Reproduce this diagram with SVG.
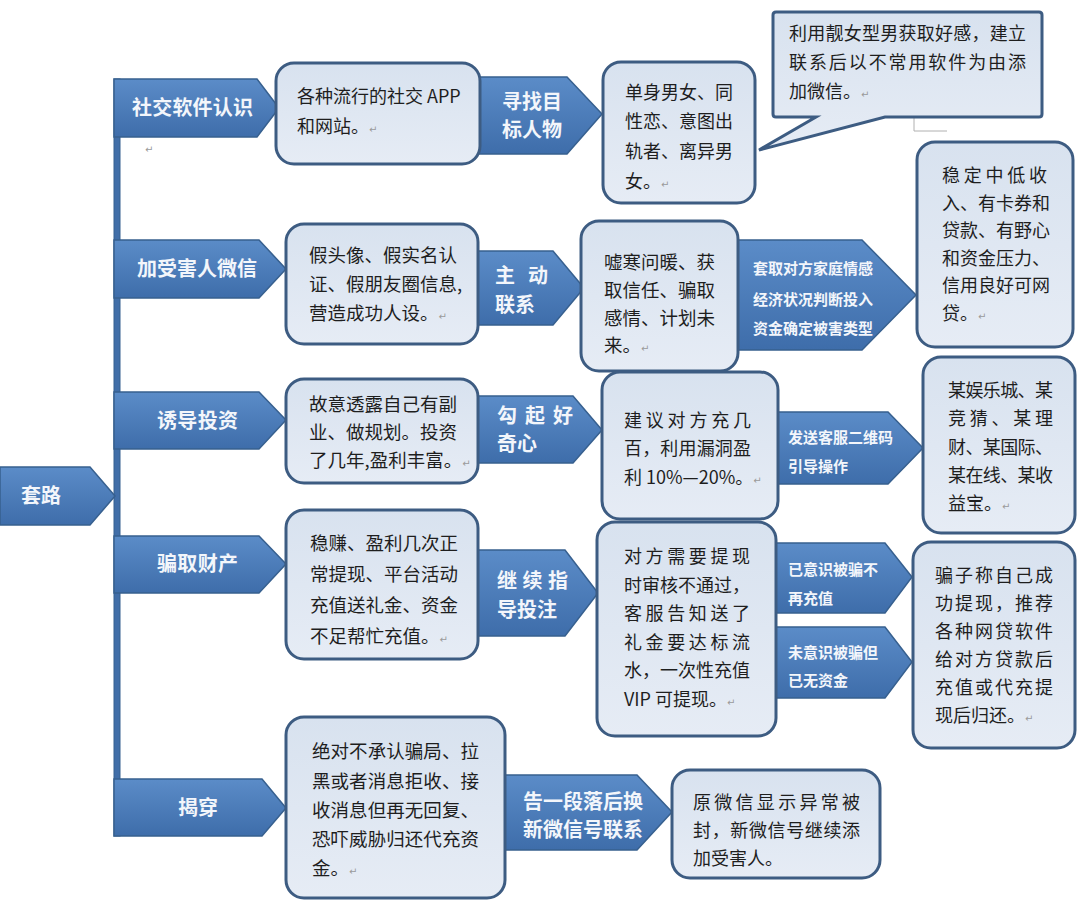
<svg xmlns="http://www.w3.org/2000/svg" width="1080" height="913" viewBox="0 0 1080 913">
<defs>
<linearGradient id="pg" x1="0" y1="0" x2="0" y2="1"><stop offset="0" stop-color="#5b8cc8"/><stop offset="1" stop-color="#3e6daa"/></linearGradient>
<linearGradient id="bg" x1="0" y1="0" x2="0" y2="1"><stop offset="0" stop-color="#d8e2ef"/><stop offset="1" stop-color="#e6ecf5"/></linearGradient>
<style>
.pt{fill:url(#pg);stroke:#37608f;stroke-width:1.5}
.bx{fill:url(#bg);stroke:#3d5c82;stroke-width:3}
.lb{font-family:"Noto Sans CJK SC","Noto Sans CJK JP",sans-serif;font-weight:700;fill:#f3f6fb;font-size:20px}
.sl{font-family:"Noto Sans CJK SC","Noto Sans CJK JP",sans-serif;font-weight:700;fill:#f3f6fb;font-size:15px}
.tx{font-family:"Noto Sans CJK SC","Noto Sans CJK JP",sans-serif;fill:#1e1e1e;font-size:18px}
.t5{font-size:18.5px}
.rt{font-family:"DejaVu Sans",sans-serif;fill:#9a9a9a;font-size:10px;font-weight:400}
</style>
</defs>
<rect width="1080" height="913" fill="#ffffff"/>

<g id="connectors">
<rect x="114" y="79" width="6" height="757" fill="#416ea8" stroke="#37608f" stroke-width="1"/>
<polyline points="914,117 914,131 947,131" fill="none" stroke="#b0b0b0" stroke-width="1"/>
</g>

<g id="n-taolu"><polygon class="pt" points="0,467 90,467 115,496 90,525 0,525"/><text class="lb" x="21" y="503">套路</text></g>
<g id="n-shejiao"><polygon class="pt" points="114,79 257,79 279,108 257,137 114,137"/><text class="lb" x="132" y="115" textLength="121" lengthAdjust="spacing">社交软件认识</text><text class="rt" x="145" y="153">↵</text></g>
<g id="n-jiashouhai"><polygon class="pt" points="114,240 259,240 286,269 259,298 114,298"/><text class="lb" x="137" y="276" textLength="120" lengthAdjust="spacing">加受害人微信</text></g>
<g id="n-youdao"><polygon class="pt" points="114,392 259,392 286,420 259,449 114,449"/><text class="lb" x="157" y="428" textLength="81" lengthAdjust="spacing">诱导投资</text></g>
<g id="n-pianqu"><polygon class="pt" points="114,536 259,536 286,564 259,593 114,593"/><text class="lb" x="157" y="571" textLength="81" lengthAdjust="spacing">骗取财产</text></g>
<g id="n-jiechuan"><polygon class="pt" points="114,779 262,779 286,808 262,836 114,836"/><text class="lb" x="178" y="815">揭穿</text></g>

<g id="n-xunzhao"><polygon class="pt" points="478,77 567,77 602,114 567,154 478,154"/><text class="lb" x="502" y="109">寻找目</text><text class="lb" x="502" y="137">标人物</text></g>
<g id="n-zhudong"><polygon class="pt" points="478,251 553,251 584,288 553,325 478,325"/><text class="lb" x="495" y="283" font-size="19" textLength="53" lengthAdjust="spacing">主动</text><text class="lb" x="495" y="312" font-size="19">联系</text></g>
<g id="n-gouqi"><polygon class="pt" points="478,396 573,396 602,430 573,463 478,463"/><text class="lb" x="497" y="423" font-size="19" textLength="76" lengthAdjust="spacing">勾起好</text><text class="lb" x="497" y="451" font-size="19">奇心</text></g>
<g id="n-jixu"><polygon class="pt" points="478,550 565,550 598,593 565,636 478,636"/><text class="lb" x="497" y="588" font-size="19.5" textLength="71" lengthAdjust="spacing">继续指</text><text class="lb" x="497" y="617" font-size="19.5">导投注</text></g>
<g id="n-gaoyiduan"><polygon class="pt" points="505,775 637,775 672,812 637,850 505,850"/><text class="lb" x="523" y="809" font-size="19.5">告一段落后换</text><text class="lb" x="523" y="837" font-size="19.5">新微信号联系</text></g>
<g id="n-taoqu"><polygon class="pt" points="738,240 862,240 916,295 862,350 738,350"/><text class="sl" x="753" y="274">套取对方家庭情感</text><text class="sl" x="753" y="305">经济状况判断投入</text><text class="sl" x="753" y="334">资金确定被害类型</text></g>
<g id="n-fasong"><polygon class="pt" points="778,412 888,412 923,448 888,484 778,484"/><text class="sl" x="788" y="443">发送客服二维码</text><text class="sl" x="788" y="472">引导操作</text></g>
<g id="n-yiyishi"><polygon class="pt" points="776,543 885,543 912,577 885,613 776,613"/><text class="sl" x="788" y="575">已意识被骗不</text><text class="sl" x="788" y="604">再充值</text></g>
<g id="n-weiyishi"><polygon class="pt" points="776,627 885,627 912,662 885,698 776,698"/><text class="sl" x="788" y="658">未意识被骗但</text><text class="sl" x="788" y="686">已无资金</text></g>

<g id="b-app"><rect class="bx" x="276" y="63" width="204" height="101" rx="18"/>
<text class="tx" x="297" y="103">各种流行的社交 APP</text>
<text class="tx" x="297" y="133">和网站。<tspan class="rt">↵</tspan></text></g>

<g id="b-danshen"><rect class="bx" x="603" y="62" width="152" height="141" rx="18"/>
<text class="tx" x="625" y="99">单身男女、同</text>
<text class="tx" x="625" y="128">性恋、意图出</text>
<text class="tx" x="625" y="158">轨者、离异男</text>
<text class="tx" x="625" y="188">女。<tspan class="rt">↵</tspan></text></g>

<g id="b-callout"><path class="bx" d="M776,12 H1039 Q1042,12 1042,15 V114 Q1042,117 1039,117 H885 L759,150 L816,117 H776 Q773,117 773,114 V15 Q773,12 776,12 Z"/>
<text class="tx" x="789" y="40" textLength="237" lengthAdjust="spacing">利用靓女型男获取好感，建立</text>
<text class="tx" x="789" y="69" textLength="237" lengthAdjust="spacing">联系后以不常用软件为由添</text>
<text class="tx" x="789" y="98">加微信。<tspan class="rt">↵</tspan></text></g>

<g id="b-wending"><rect class="bx" x="917" y="142" width="156" height="205" rx="18"/>
<text class="tx" x="942" y="182" textLength="105" lengthAdjust="spacing">稳定中低收</text>
<text class="tx" x="942" y="209.5">入、有卡券和</text>
<text class="tx" x="942" y="237">贷款、有野心</text>
<text class="tx" x="942" y="264.5">和资金压力、</text>
<text class="tx" x="942" y="292">信用良好可网</text>
<text class="tx" x="942" y="319.5">贷。<tspan class="rt">↵</tspan></text></g>

<g id="b-jiatouxiang"><rect class="bx" x="286" y="224" width="192" height="120" rx="18"/>
<text class="tx t5" x="309" y="262">假头像、假实名认</text>
<text class="tx t5" x="309" y="291">证、假朋友圈信息,</text>
<text class="tx t5" x="309" y="320">营造成功人设。<tspan class="rt">↵</tspan></text></g>

<g id="b-xuhan"><rect class="bx" x="581" y="221" width="157" height="150" rx="18"/>
<text class="tx t5" x="604" y="269">嘘寒问暖、获</text>
<text class="tx t5" x="604" y="297">取信任、骗取</text>
<text class="tx t5" x="604" y="325">感情、计划未</text>
<text class="tx t5" x="604" y="352">来。<tspan class="rt">↵</tspan></text></g>

<g id="b-guyi"><rect class="bx" x="286" y="379" width="192" height="104" rx="18"/>
<text class="tx t5" x="309" y="411">故意透露自己有副</text>
<text class="tx t5" x="309" y="439">业、做规划。投资</text>
<text class="tx t5" x="309" y="467">了几年,盈利丰富。<tspan class="rt">↵</tspan></text></g>

<g id="b-jianyi"><rect class="bx" x="602" y="372" width="176" height="147" rx="18"/>
<text class="tx" x="624" y="427" textLength="127" lengthAdjust="spacing">建议对方充几</text>
<text class="tx" x="624" y="455" textLength="127" lengthAdjust="spacing">百，利用漏洞盈</text>
<text class="tx" x="624" y="484">利 10%—20%。<tspan class="rt">↵</tspan></text></g>

<g id="b-yule"><rect class="bx" x="923" y="357" width="152" height="176" rx="18"/>
<text class="tx" x="948" y="397" font-size="17.5" textLength="105" lengthAdjust="spacing">某娱乐城、某</text>
<text class="tx" x="948" y="425" font-size="17.5" textLength="105" lengthAdjust="spacing">竞猜、某理</text>
<text class="tx" x="948" y="454" font-size="17.5" textLength="105" lengthAdjust="spacing">财、某国际、</text>
<text class="tx" x="948" y="482" font-size="17.5" textLength="105" lengthAdjust="spacing">某在线、某收</text>
<text class="tx" x="948" y="510" font-size="17.5">益宝。<tspan class="rt">↵</tspan></text></g>

<g id="b-wenzhuan"><rect class="bx" x="286" y="510" width="192" height="149" rx="18"/>
<text class="tx t5" x="310" y="550">稳赚、盈利几次正</text>
<text class="tx t5" x="310" y="581">常提现、平台活动</text>
<text class="tx t5" x="310" y="612">充值送礼金、资金</text>
<text class="tx t5" x="310" y="643">不足帮忙充值。<tspan class="rt">↵</tspan></text></g>

<g id="b-duifang"><rect class="bx" x="597" y="522" width="179" height="214" rx="18"/>
<text class="tx" x="624" y="563" textLength="126" lengthAdjust="spacing">对方需要提现</text>
<text class="tx" x="624" y="591.5" textLength="126" lengthAdjust="spacing">时审核不通过，</text>
<text class="tx" x="624" y="620" textLength="126" lengthAdjust="spacing">客服告知送了</text>
<text class="tx" x="624" y="648.5" textLength="126" lengthAdjust="spacing">礼金要达标流</text>
<text class="tx" x="624" y="677" textLength="126" lengthAdjust="spacing">水，一次性充值</text>
<text class="tx" x="624" y="705.5">VIP 可提现。<tspan class="rt">↵</tspan></text></g>

<g id="b-pianzi"><rect class="bx" x="913" y="542" width="162" height="206" rx="18"/>
<text class="tx" x="935" y="582" textLength="118" lengthAdjust="spacing">骗子称自己成</text>
<text class="tx" x="935" y="610" textLength="118" lengthAdjust="spacing">功提现，推荐</text>
<text class="tx" x="935" y="638" textLength="118" lengthAdjust="spacing">各种网贷软件</text>
<text class="tx" x="935" y="666" textLength="118" lengthAdjust="spacing">给对方贷款后</text>
<text class="tx" x="935" y="694" textLength="118" lengthAdjust="spacing">充值或代充提</text>
<text class="tx" x="935" y="722">现后归还。<tspan class="rt">↵</tspan></text></g>

<g id="b-juedui"><rect class="bx" x="286" y="717" width="219" height="181" rx="18"/>
<text class="tx t5" x="312" y="758" textLength="167" lengthAdjust="spacing">绝对不承认骗局、拉</text>
<text class="tx t5" x="312" y="788" textLength="167" lengthAdjust="spacing">黑或者消息拒收、接</text>
<text class="tx t5" x="312" y="817" textLength="167" lengthAdjust="spacing">收消息但再无回复、</text>
<text class="tx t5" x="312" y="846" textLength="167" lengthAdjust="spacing">恐吓威胁归还代充资</text>
<text class="tx t5" x="312" y="875">金。<tspan class="rt">↵</tspan></text></g>

<g id="b-yuanweixin"><rect class="bx" x="672" y="770" width="208" height="108" rx="18"/>
<text class="tx" x="693" y="809" textLength="167" lengthAdjust="spacing">原微信显示异常被</text>
<text class="tx" x="693" y="837" textLength="167" lengthAdjust="spacing">封，新微信号继续添</text>
<text class="tx" x="693" y="865">加受害人。</text></g>
</svg>
